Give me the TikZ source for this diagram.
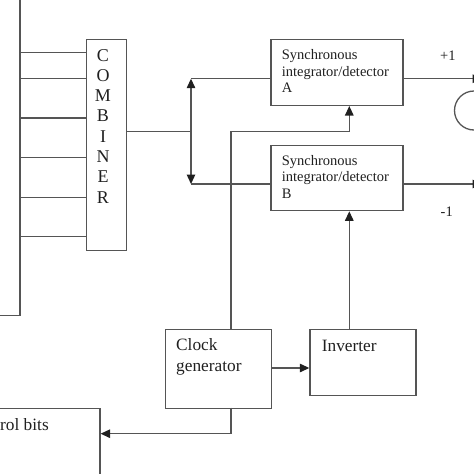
\documentclass[tikz,border=0pt]{standalone}
\usepackage{fontspec}
\setmainfont{Liberation Serif}
\usetikzlibrary{arrows.meta}
\definecolor{ln}{HTML}{555555}
\definecolor{tx}{HTML}{202020}
\tikzset{
  box/.style={draw=ln, line width=1.3pt, rectangle, inner sep=0pt, anchor=north west},
  wire/.style={draw=ln, line width=1.3pt},
  tip/.tip={Triangle[length=9.5pt,width=8.5pt,color=tx]},
  arr/.style={wire, -tip},
  txtA/.style={text=tx, inner sep=0pt, align=left, font=\fontsize{14.5}{16.7}\selectfont},
  txtB/.style={text=tx, inner sep=0pt, align=left, font=\fontsize{17.3}{21.7}\selectfont},
}
\begin{document}
\begin{tikzpicture}[x=1pt,y=-1pt]
\useasboundingbox (0,0) rectangle (474,474);
\clip (0,0) rectangle (474,474);
% boxes
\node[box, minimum width=39.5pt, minimum height=211pt] (comb) at (86,39) {};
\node[box, minimum width=132pt, minimum height=65.7pt] (A) at (270.3,39) {};
\node[box, minimum width=132pt, minimum height=65pt] (B) at (270.3,145) {};
\node[box, minimum width=105.7pt, minimum height=79pt] (clk) at (165,328.7) {};
\node[box, minimum width=106pt, minimum height=66pt] (inv) at (309.3,328.7) {};
\node[box, minimum width=130pt, minimum height=100pt] (ctl) at (-30.7,407.7) {};
% texts (base anchor = baseline of last line)
\node[text=tx, inner sep=0pt, align=center, font=\fontsize{18}{20.3}\selectfont, anchor=base] (combtxt) at (103,203.1) {C\\O\\M\\B\\I\\N\\E\\R};
\node[txtA, anchor=base west] (tA) at (281.7,92.7) {Synchronous\\integrator/detector\\A};
\node[txtA, anchor=base west] (tB) at (281.7,198.4) {Synchronous\\integrator/detector\\B};
\node[txtB, anchor=base west] (tclk) at (176,371.7) {Clock\\generator};
\node[txtB, anchor=base west] (tinv) at (321.7,351) {Inverter};
\node[txtB, anchor=base west] (tctl) at (0,430) {rol bits};
\node[txtA, anchor=base west] (p1) at (440,60) {+1};
\node[txtA, anchor=base west] (m1) at (440.5,216.7) {-1};
% bus on left
\coordinate (busTop) at (20,-2);
\coordinate (busBot) at (20,315.3);
\coordinate (busEnd) at (-2,315.3);
\draw[wire] (busTop) -- (busBot) -- (busEnd);
\foreach \yy/\nm in {52.3/a,78.7/b,118/c,157.7/d,197.3/e,236.7/f}{
  \coordinate (in\nm) at (20,\yy);
  \draw[wire] (in\nm) -- (comb.west |- in\nm);
}
% combiner output and splitter
\coordinate (split) at (191,131.5);
\draw[wire] (comb.east |- split) -- (split);
\draw[wire, tip-tip] (191,78.7) -- (191,184);
\draw[wire] (191,78.7) -- (A.west |- 191,78.7);
\draw[wire] (191,184) -- (B.west |- 191,184);
% outputs
\coordinate (oA) at (482,78.7);
\coordinate (oB) at (482,184);
\draw[arr] (A.east |- oA) -- (oA);
\draw[arr] (B.east |- oB) -- (oB);
\coordinate (cc) at (474,110.5);
\draw[wire] (cc) circle (19.5);
% clock lines
\coordinate (clkTop) at (231,328.7);
\draw[arr] (clkTop) |- (349.3,131.5) -- (A.south -| 349.3,0);
\draw[arr] (inv.north -| 349.3,0) -- (B.south -| 349.3,0);
\draw[arr] (clk.east |- 0,368) -- (inv.west |- 0,368);
\draw[arr] (231,407.7) |- (ctl.east |- 0,433.7);
\end{tikzpicture}
\end{document}
